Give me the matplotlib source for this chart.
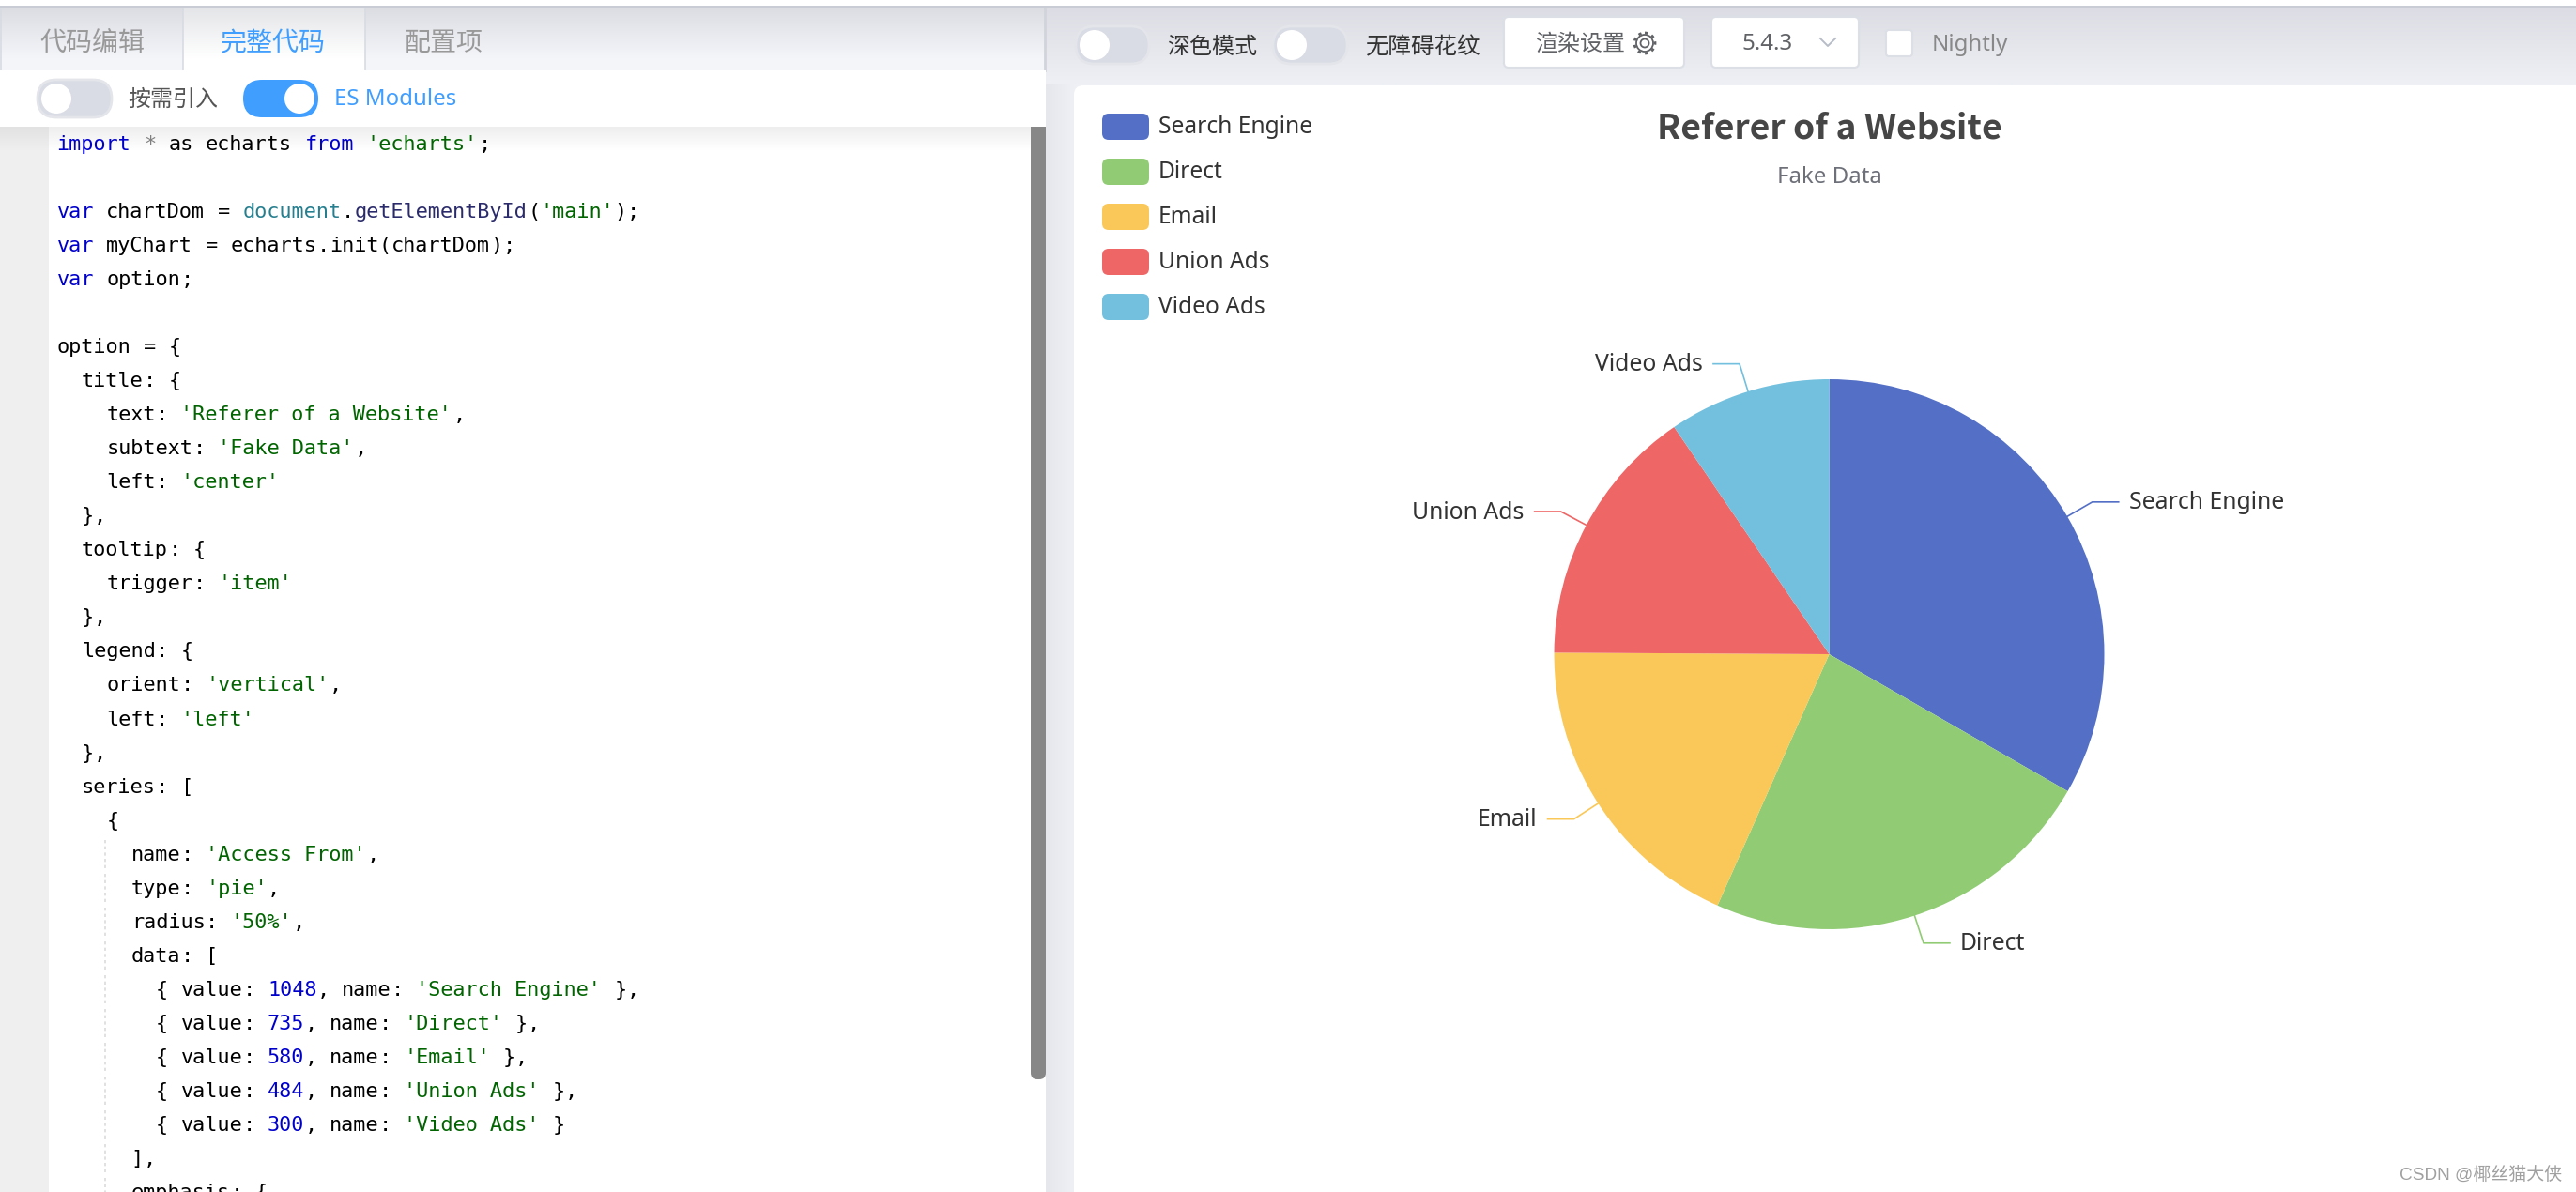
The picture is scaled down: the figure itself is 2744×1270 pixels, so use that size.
import re
import numpy as np
import matplotlib
matplotlib.use("Agg")
import matplotlib.pyplot as plt
from matplotlib.patches import FancyBboxPatch, Rectangle, Circle
from matplotlib.colors import to_rgb

W, H = 2744, 1270
CJK = ['Noto Sans CJK SC', 'DejaVu Sans']
plt.rcParams['font.family'] = CJK

# pie data
names = ['Search Engine', 'Direct', 'Email', 'Union Ads', 'Video Ads']
values = [1048, 735, 580, 484, 300]
colors = ['#5470c6', '#91cc75', '#fac858', '#ee6666', '#73c0de']

title = 'Referer of a Website'
subtitle = 'Fake Data'

code_lines = [
    "import * as echarts from 'echarts';",
    "",
    "var chartDom = document.getElementById('main');",
    "var myChart = echarts.init(chartDom);",
    "var option;",
    "",
    "option = {",
    "  title: {",
    "    text: 'Referer of a Website',",
    "    subtext: 'Fake Data',",
    "    left: 'center'",
    "  },",
    "  tooltip: {",
    "    trigger: 'item'",
    "  },",
    "  legend: {",
    "    orient: 'vertical',",
    "    left: 'left'",
    "  },",
    "  series: [",
    "    {",
    "      name: 'Access From',",
    "      type: 'pie',",
    "      radius: '50%',",
    "      data: [",
    "        { value: 1048, name: 'Search Engine' },",
    "        { value: 735, name: 'Direct' },",
    "        { value: 580, name: 'Email' },",
    "        { value: 484, name: 'Union Ads' },",
    "        { value: 300, name: 'Video Ads' }",
    "      ],",
    "      emphasis: {",
]


def px(size):
    return size * 0.72   # pixel -> point at dpi 100


def vgrad(ax, x0, x1, y0, y1, c0, c1):
    # vertical gradient between two colours
    a, b = np.array(to_rgb(c0)), np.array(to_rgb(c1))
    t = np.linspace(0, 1, 64)[:, None, None]
    img = a[None, None, :] * (1 - t) + b[None, None, :] * t
    ax.imshow(img, extent=(x0, x1, y1, y0), aspect='auto', interpolation='bilinear', zorder=1)


def hgrad(ax, x0, x1, y0, y1, c0, c1):
    a, b = np.array(to_rgb(c0)), np.array(to_rgb(c1))
    t = np.linspace(0, 1, 64)[None, :, None]
    img = a[None, None, :] * (1 - t) + b[None, None, :] * t
    ax.imshow(img, extent=(x0, x1, y1, y0), aspect='auto', interpolation='bilinear', zorder=1.2)


def rbox(ax, x0, y0, x1, y1, r, fc, ec='none', lw=0, z=3):
    ax.add_patch(FancyBboxPatch((x0 + r, y0 + r), x1 - x0 - 2 * r, y1 - y0 - 2 * r,
                                boxstyle=f'round,pad={r},rounding_size={r}',
                                fc=fc, ec=ec, lw=lw, zorder=z))


def toggle(ax, x0, y0, x1, y1, on=False):
    if on:
        rbox(ax, x0, y0, x1, y1, (y1 - y0) / 2, '#409eff')
    else:
        rbox(ax, x0, y0, x1, y1, (y1 - y0) / 2, '#d9dce4', '#e3e5eb', 2)
    r = (y1 - y0) / 2 - 4
    cx = x1 - r - 4 if on else x0 + r + 4
    ax.add_patch(Circle((cx, (y0 + y1) / 2), r, fc='white', ec='none', zorder=4))


fig = plt.figure(figsize=(W / 100, H / 100), dpi=100, facecolor='white')
ax = fig.add_axes([0, 0, 1, 1])
ax.axis('off')

# backgrounds
vgrad(ax, 1114, W, 8, 90, '#dcdde4', '#eff0f5')
ax.add_patch(Rectangle((1114, 90), W - 1114, H - 90, fc='#eff0f5', ec='none', zorder=1))
hgrad(ax, 1114, 1144, 90, H, '#e6e7ed', '#eff0f5')
ax.add_patch(Rectangle((0, 6), W, 2.5, fc='#c9ccd4', ec='none', zorder=5))
rbox(ax, 1144, 91, W + 30, H + 30, 10, 'white', z=2)

# left panel
vgrad(ax, 0, 1114, 8, 62, '#dcdde3', '#f4f5f9')
ax.add_patch(Rectangle((0, 62), 1114, 13, fc='#f4f5f9', ec='none', zorder=1))
vgrad(ax, 195, 389, 8, 62, '#e4e5e8', '#ffffff')
ax.add_patch(Rectangle((195, 62), 194, 14, fc='white', ec='none', zorder=1.5))
for x in [1, 195, 389]:
    ax.plot([x, x], [8, 75], color='#d8dbe2', lw=1.2, zorder=2)
ax.plot([1113, 1113], [8, 75], color='#d2d4db', lw=2, zorder=2)
ax.add_patch(Rectangle((0, 75), 1114, 60, fc='white', ec='none', zorder=3))
ax.add_patch(Rectangle((52, 135), 1062, H - 135, fc='white', ec='none', zorder=1))
ax.add_patch(Rectangle((0, 135), 52, H - 135, fc='#efefef', ec='none', zorder=1))
vgrad(ax, 0, 52, 135, 160, '#e2e2e2', '#efefef')
vgrad(ax, 52, 1098, 135, 160, '#eeeeee', '#ffffff')
rbox(ax, 1098, 125, 1114, 1150, 7, '#878787', z=2)

for label, x, col in [('代码编辑', 98, '#999999'), ('完整代码', 291, '#409eff'), ('配置项', 472, '#999999')]:
    ax.text(x, 46, label, color=col, fontsize=px(28), ha='center', va='center', zorder=6)

toggle(ax, 40, 85, 119, 125)
ax.text(136, 106, '按需引入', color='#555555', fontsize=px(24), va='center', zorder=6)
toggle(ax, 259, 85, 339, 125, on=True)
ax.text(356, 106, 'ES Modules', color='#409eff', fontsize=px(24), va='center', zorder=6,
        family=['Noto Sans'])

# code
LINE0, PITCH, CHAR = 160, 36.03, 13.2
KEYWORDS = {'import', 'from', 'var'}
for i, line in enumerate(code_lines):
    y = LINE0 + i * PITCH
    for m in re.finditer(r"'[^']*'|[A-Za-z_]+|\d+|\s+|.", line):
        tok = m.group(0)
        if tok.isspace():
            continue
        col = '#000000'
        if tok.startswith("'"):
            col = '#006400'
        elif tok in KEYWORDS or tok.isdigit():
            col = '#0000cd'
        elif tok == 'document':
            col = '#267f8f'
        elif tok == 'getElementById':
            col = '#2b2b6b'
        elif tok == '*':
            col = '#808080'
        ax.text(60.5 + m.start() * CHAR, y, tok, color=col, fontsize=px(21.9), va='baseline',
                family=['DejaVu Sans Mono'], zorder=2.5)
for i in range(21, len(code_lines)):
    y = LINE0 - 7 + i * PITCH
    ax.plot([112, 112], [y - 15, y + 15], color='#dcdcdc', lw=1.2, ls=(0, (2, 2)), zorder=2)

# right toolbar
toggle(ax, 1146, 28, 1224, 68)
ax.text(1243, 50, '深色模式', color='#333333', fontsize=px(24), va='center', zorder=6)
toggle(ax, 1356, 28, 1435, 68)
ax.text(1454, 50, '无障碍花纹', color='#333333', fontsize=px(24.5), va='center', zorder=6)
rbox(ax, 1602, 18, 1794, 72, 5, 'white', '#dcdfe6', 1.5)
ax.text(1635, 47, '渲染设置', color='#606266', fontsize=px(24), va='center', zorder=6)
# gear icon
ax.add_patch(Circle((1752, 46), 9, fc='none', ec='#606266', lw=1.3, zorder=6))
ax.add_patch(Circle((1752, 46), 11, fc='none', ec='#606266', lw=2, ls=(0, (1.2, 1.6)), zorder=6))
ax.add_patch(Circle((1752, 46), 4.5, fc='none', ec='#606266', lw=1.3, zorder=6))
rbox(ax, 1823, 18, 1980, 72, 5, 'white', '#dcdfe6', 1.5)
ax.text(1855, 47, '5.4.3', color='#606266', fontsize=px(24), va='center', zorder=6,
        family=['Noto Sans'])
ax.plot([1939, 1947, 1955], [41, 49, 41], color='#b8bcc6', lw=1.4, zorder=6)
rbox(ax, 2009, 32, 2037, 60, 3, 'white', '#dcdfe6', 1.5)
ax.text(2058, 48, 'Nightly', color='#888888', fontsize=px(24), va='center', zorder=6,
        family=['Noto Sans'])

# legend
for i, (name, col) in enumerate(zip(names, colors)):
    y0 = 121 + i * 48
    rbox(ax, 1174, y0, 1224, y0 + 28, 7, col)
    ax.text(1234, y0 + 14, name, color='#333333', fontsize=px(24.5), va='center', zorder=6,
            family=['Noto Sans'])

ax.text(1948.5, 136.5, title, color='#464646', fontsize=px(37.2), fontweight='bold', ha='center',
        va='center', zorder=6, family=['Noto Sans CJK SC'])
ax.text(1948.5, 189, subtitle, color='#6e7079', fontsize=px(24), ha='center', va='center', zorder=6,
        family=['Noto Sans'])

ax.text(2729, 1252, 'CSDN @椰丝猫大侠', color='#a0a0a0', fontsize=px(19), ha='right', va='center', zorder=6,
        family=['Liberation Sans', 'Noto Sans CJK SC'])

ax.set_xlim(0, W)
ax.set_ylim(H, 0)

# pie, in its own axes scaled so radius 1 is 293 px
CX, CY, R, HALF = 1948.5, 697, 293, 620
ax_pie = fig.add_axes([(CX - HALF) / W, 1 - (CY + HALF) / H, 2 * HALF / W, 2 * HALF / H])
ax_pie.patch.set_alpha(0)
wedges, _ = ax_pie.pie(values, colors=colors, startangle=90, counterclock=False, radius=1)
ax_pie.set_xlim(-HALF / R, HALF / R)
ax_pie.set_ylim(-HALF / R, HALF / R)
ax_pie.axis('off')

for w, name, col in zip(wedges, names, colors):
    a = np.deg2rad((w.theta1 + w.theta2) / 2)
    x1, y1 = np.cos(a), np.sin(a)
    x2, y2 = 1.105 * x1, 1.105 * y1
    side = 1 if x1 > 0 else -1
    x3 = x2 + side * 28 / R
    ax_pie.plot([x1, x2, x3], [y1, y2, y2], color=col, lw=1.2, zorder=5)
    ax_pie.text(x3 + side * 11 / R, y2 - 1 / R, name, color='#333333', fontsize=px(24.8),
                ha='left' if side > 0 else 'right', va='center', family=['Noto Sans'])

fig.savefig('out.png', dpi=100)
